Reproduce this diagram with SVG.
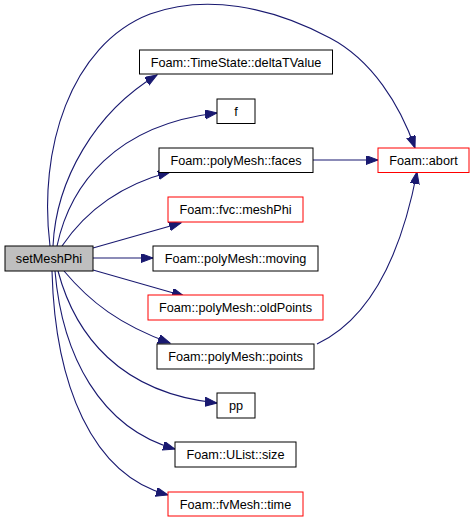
<svg xmlns="http://www.w3.org/2000/svg" width="474" height="522" viewBox="0 0 474 522">
<style>
.n rect{fill:#ffffff;stroke:#000000;stroke-width:1}
.n.r rect{stroke:#ff0000}
.n.g rect{fill:#bfbfbf}
.n text{font-family:"Liberation Sans",Arial,sans-serif;font-size:12.7px;fill:#000000;text-anchor:middle}
.e path{fill:none;stroke:#191970;stroke-width:1.1;marker-end:url(#ah)}
</style>
<defs>
<marker id="ah" markerUnits="userSpaceOnUse" markerWidth="14" markerHeight="10" refX="12" refY="4.5" orient="auto">
<path d="M0,0 L12,4.5 L0,9 z" fill="#191970" stroke="#191970" stroke-width="1"/>
</marker>
</defs>
<rect width="474" height="522" fill="#ffffff"/>
<g id="edges" class="e">
<path d="M50,246 C38,150 70,45 150,14 C205,-6 270,6 330,38 C372,60 400,105 415,148"/>
<path d="M53,246 C56,180 95,112 157,75"/>
<path d="M57,246 C70,185 115,125 217,113"/>
<path d="M62,246 C85,212 120,185 170,172"/>
<path d="M93,248 L181,223"/>
<path d="M93,258 L153,258"/>
<path d="M93,270 L184,296"/>
<path d="M64,271 C90,302 120,325 170,343"/>
<path d="M58,271 C75,335 120,393 217,403"/>
<path d="M55,271 C62,355 100,428 175,449"/>
<path d="M52,271 C55,385 92,475 168,495"/>
<path d="M313,160 L378,160"/>
<path d="M317,344 C372,318 402,250 417,172"/>
</g>
<g id="setMeshPhi" class="n g"><rect x="5" y="246" width="88" height="25"/><text x="49" y="263">setMeshPhi</text></g>
<g id="deltaTValue" class="n"><rect x="139.5" y="50" width="193" height="24"/><text x="236" y="66.5">Foam::TimeState::deltaTValue</text></g>
<g id="f" class="n"><rect x="217" y="99" width="38" height="24.5"/><text x="236" y="115.5">f</text></g>
<g id="faces" class="n"><rect x="159" y="148" width="154" height="24.5"/><text x="236" y="164.5">Foam::polyMesh::faces</text></g>
<g id="abort" class="n r"><rect x="378" y="148" width="91" height="24.5"/><text x="423.5" y="164.5">Foam::abort</text></g>
<g id="meshPhi" class="n r"><rect x="168" y="197" width="135" height="25"/><text x="235.5" y="214">Foam::fvc::meshPhi</text></g>
<g id="moving" class="n"><rect x="153" y="246" width="165" height="25"/><text x="235.5" y="263">Foam::polyMesh::moving</text></g>
<g id="oldPoints" class="n r"><rect x="148" y="295" width="175" height="25"/><text x="235.5" y="312">Foam::polyMesh::oldPoints</text></g>
<g id="points" class="n"><rect x="157" y="344" width="157" height="25"/><text x="235.5" y="361">Foam::polyMesh::points</text></g>
<g id="pp" class="n"><rect x="217" y="393" width="38" height="25"/><text x="236" y="410">pp</text></g>
<g id="size" class="n"><rect x="175" y="442" width="121" height="25"/><text x="235.5" y="459">Foam::UList::size</text></g>
<g id="time" class="n r"><rect x="168" y="492" width="135" height="24"/><text x="235.5" y="508.5">Foam::fvMesh::time</text></g>
</svg>
